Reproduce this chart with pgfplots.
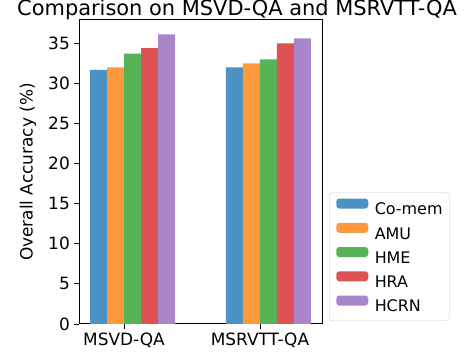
\documentclass[border=0pt]{standalone}
\usepackage{fontspec}
\setmainfont{DejaVu Sans}
\usepackage{pgfplots}
\pgfplotsset{compat=1.18}
\definecolor{cBlue}{HTML}{4C92C3}
\definecolor{cOrange}{HTML}{FF993E}
\definecolor{cGreen}{HTML}{56B356}
\definecolor{cRed}{HTML}{DE5253}
\definecolor{cPurple}{HTML}{A985CA}
\newcommand{\tickfont}{\fontsize{17}{20}\selectfont}
\newcommand{\legfont}{\fontsize{16}{19}\selectfont}
\begin{document}
\begin{tikzpicture}
\useasboundingbox (0,0) rectangle (474bp,358bp);
\begin{axis}[
  at={(79bp,34bp)}, anchor=south west,
  scale only axis, width=243bp, height=304bp,
  xmin=-0.331, xmax=1.456, ymin=0, ymax=37.905,
  ybar, bar width=17bp,
  xtick={0,1}, xticklabels={MSVD-QA,MSRVTT-QA},
  ytick={0,5,10,15,20,25,30,35},
  tick align=outside, major tick length=5bp,
  tick style={black, line width=0.8bp},
  xtick pos=bottom, ytick pos=left,
  axis line style={line width=1bp},
  /pgf/number format/assume math mode=true,
  tick label style={font=\tickfont, inner sep=0pt},
  yticklabel style={xshift=-4bp},
  xticklabel style={yshift=-4bp},
  legend style={at={(1.029,0.01)}, anchor=south west,
    draw=black!20, rounded corners=3bp, fill=white,
    inner xsep=7bp, inner ysep=6bp,
    font=\legfont, row sep=5bp, column sep=6.5bp,
    nodes={inner sep=0pt, text height=12bp, text depth=3bp}},
  legend cell align=left,
  legend image code/.code={\fill[#1, draw=none] (0bp,1.75bp) rectangle (32bp,11.75bp);},
]
\addplot[fill=cBlue, draw=none, bar shift=-25.5bp] coordinates {(0,31.7) (1,32.0)};
\addplot[fill=cOrange, draw=none, bar shift=-8.5bp] coordinates {(0,32.0) (1,32.5)};
\addplot[fill=cGreen, draw=none, bar shift=8.5bp] coordinates {(0,33.7) (1,33.0)};
\addplot[fill=cRed, draw=none, bar shift=25.5bp] coordinates {(0,34.4) (1,35.0)};
\addplot[fill=cPurple, draw=none, bar shift=42.5bp] coordinates {(0,36.1) (1,35.6)};
\legend{Co-mem,AMU,HME,HRA,HCRN}
\end{axis}
\node[rotate=90, font=\tickfont] at (28bp,186bp) {Overall Accuracy (\%)};
\node[anchor=base, font=\fontsize{21}{24}\selectfont] at (237bp,342bp) {Comparison on MSVD-QA and MSRVTT-QA};
\end{tikzpicture}
\end{document}
